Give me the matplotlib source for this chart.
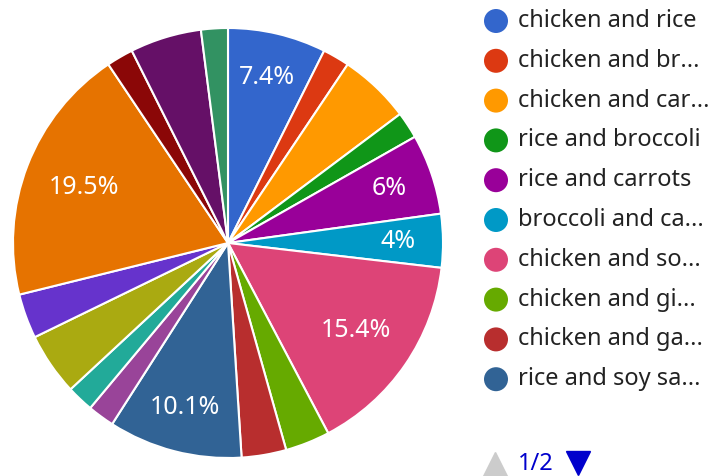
import matplotlib
matplotlib.use("Agg")
import matplotlib.pyplot as plt
from matplotlib.patches import Circle
import numpy as np

plt.rcParams['font.family'] = ['Noto Sans', 'DejaVu Sans']

# slice counts, clockwise from 12 o'clock
counts = [11, 3, 8, 3, 9, 6, 23, 5, 5, 15, 3, 3, 7, 5, 29, 3, 8, 3]
colors = ['#3366cc', '#dc3912', '#ff9900', '#109618', '#990099', '#0099c6',
          '#dd4477', '#66aa00', '#b82e2e', '#316395', '#994499', '#22aa99',
          '#aaaa11', '#6633cc', '#e67300', '#8b0707', '#651067', '#329262']
# legend page 1 (truncated like the original)
legend_labels = ['chicken and rice', 'chicken and br...', 'chicken and car...',
                 'rice and broccoli', 'rice and carrots', 'broccoli and ca...',
                 'chicken and so...', 'chicken and gi...', 'chicken and ga...',
                 'rice and soy sa...']
# slices that carry a percentage label
shown = [0, 4, 5, 6, 9, 14]

W, H = 713, 476
fig = plt.figure(figsize=(W / 100, H / 100), dpi=100)
ax = fig.add_axes([0, 0, 1, 1])

cx, cy, R = 228, H - 243, 215
wedges, _ = ax.pie(counts, colors=colors, startangle=90, counterclock=False,
                   center=(cx, cy), radius=R,
                   wedgeprops=dict(edgecolor='white', linewidth=1.5))
ax.set_xlim(0, W)
ax.set_ylim(0, H)
ax.set_aspect('equal')
ax.axis('off')

total = sum(counts)
for i in shown:
    w = wedges[i]
    mid = np.deg2rad((w.theta1 + w.theta2) / 2)
    pct = 100 * counts[i] / total
    f = 0.72 if pct > 12 else 0.79
    txt = ('%.1f' % pct).rstrip('0').rstrip('.') + '%'
    ax.text(cx + f * R * np.cos(mid), cy + f * R * np.sin(mid), txt,
            color='white', fontsize=18, ha='center', va='center')

# legend
for k, lab in enumerate(legend_labels):
    y = H - (21 + 39.8 * k)
    ax.add_patch(Circle((496, y), 12, color=colors[k], lw=0))
    ax.text(518, y, lab, fontsize=17, color='#222222', va='center', ha='left')

# pager
ax.plot([495], [H - 464], marker='^', ms=17, color='#cccccc', lw=0, clip_on=False)
ax.text(518, H - 464, '1/2', fontsize=17, color='#0000cc', va='center')
ax.plot([578], [H - 463], marker='v', ms=17, color='#0000cc', lw=0, clip_on=False)

fig.savefig('out.png', dpi=100)
